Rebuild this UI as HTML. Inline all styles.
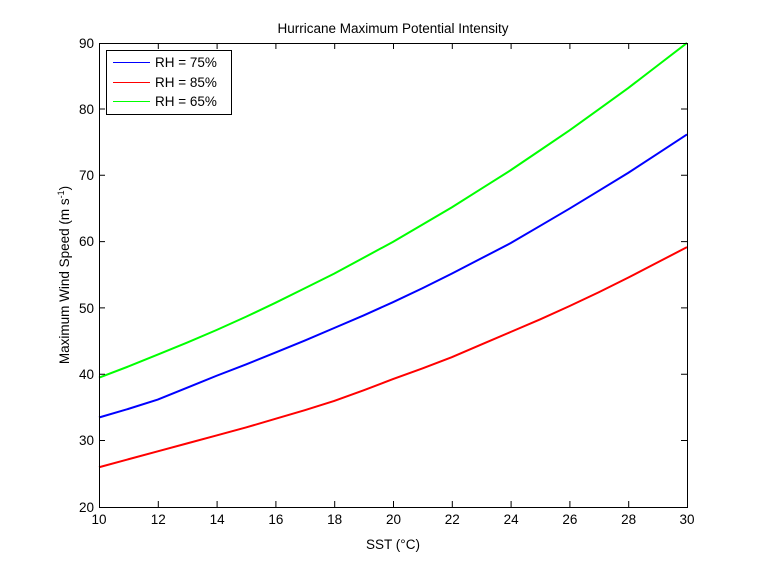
<!DOCTYPE html>
<html><head><meta charset="utf-8"><style>body{margin:0;background:#fff}svg{display:block}text{font-family:"Liberation Sans",sans-serif;font-size:13.5px;fill:#000}</style></head>
<body>
<svg width="760" height="571" viewBox="0 0 760 571">
<rect width="760" height="571" fill="#fff"/>
<g transform="translate(99,507) scale(29.4,-6.629) translate(-10,-20)" fill="none" stroke-width="2">
<polyline vector-effect="non-scaling-stroke" stroke="#00ff00" points="10,39.5 11,41.2 12,43 13,44.8 14,46.7 15,48.7 16,50.8 17,53 18,55.2 19,57.6 20,60 21,62.6 22,65.2 23,68 24,70.8 25,73.8 26,76.8 27,80 28,83.2 29,86.6 30,90"/>
<polyline vector-effect="non-scaling-stroke" stroke="#0000ff" points="10,33.5 11,34.8 12,36.2 13,38 14,39.8 15,41.5 16,43.3 17,45.1 18,47 19,48.9 20,50.9 21,53 22,55.2 23,57.5 24,59.8 25,62.4 26,65 27,67.7 28,70.4 29,73.3 30,76.2"/>
<polyline vector-effect="non-scaling-stroke" stroke="#ff0000" points="10,26 11,27.2 12,28.4 13,29.6 14,30.8 15,32 16,33.3 17,34.6 18,36 19,37.6 20,39.3 21,40.9 22,42.6 23,44.5 24,46.4 25,48.3 26,50.3 27,52.4 28,54.6 29,56.9 30,59.2"/>
</g>
<rect x="99.5" y="43.5" width="588" height="464" fill="none" stroke="#000" stroke-width="1"/>
<g stroke="#000" stroke-width="1">
<path d="M158.3 507v-6M217.1 507v-6M275.9 507v-6M334.7 507v-6M393.5 507v-6M452.3 507v-6M511.1 507v-6M569.9 507v-6M628.7 507v-6
M158.3 43v6M217.1 43v6M275.9 43v6M334.7 43v6M393.5 43v6M452.3 43v6M511.1 43v6M569.9 43v6M628.7 43v6
M99 440.5h6M99 374.2h6M99 307.9h6M99 241.6h6M99 175.3h6M99 109h6
M687 440.5h-6M687 374.2h-6M687 307.9h-6M687 241.6h-6M687 175.3h-6M687 109h-6"/>
</g>
<g text-anchor="middle">
<text x="99" y="524">10</text><text x="158.3" y="524">12</text><text x="217.1" y="524">14</text><text x="275.9" y="524">16</text><text x="334.7" y="524">18</text><text x="393.5" y="524">20</text><text x="452.3" y="524">22</text><text x="511.1" y="524">24</text><text x="569.9" y="524">26</text><text x="628.7" y="524">28</text><text x="687" y="524">30</text>
<text x="393" y="549">SST (°C)</text>
<text x="393" y="33">Hurricane Maximum Potential Intensity</text>
</g>
<g text-anchor="end">
<text x="94" y="512">20</text><text x="94" y="445">30</text><text x="94" y="379">40</text><text x="94" y="313">50</text><text x="94" y="246">60</text><text x="94" y="180">70</text><text x="94" y="114">80</text><text x="94" y="48">90</text>
</g>
<text transform="translate(69,275) rotate(-90)" text-anchor="middle">Maximum Wind Speed (m s<tspan dy="-5" font-size="9">-1</tspan><tspan dy="5">)</tspan></text>
<rect x="106.5" y="50.5" width="125" height="64" fill="#fff" stroke="#000"/>
<path d="M113 62.5h37" stroke="#0000ff"/><path d="M113 82.5h37" stroke="#ff0000"/><path d="M113 101.5h37" stroke="#00ff00"/>
<text x="155" y="67">RH = 75%</text><text x="155" y="87">RH = 85%</text><text x="155" y="106">RH = 65%</text>
</svg>
</body></html>
